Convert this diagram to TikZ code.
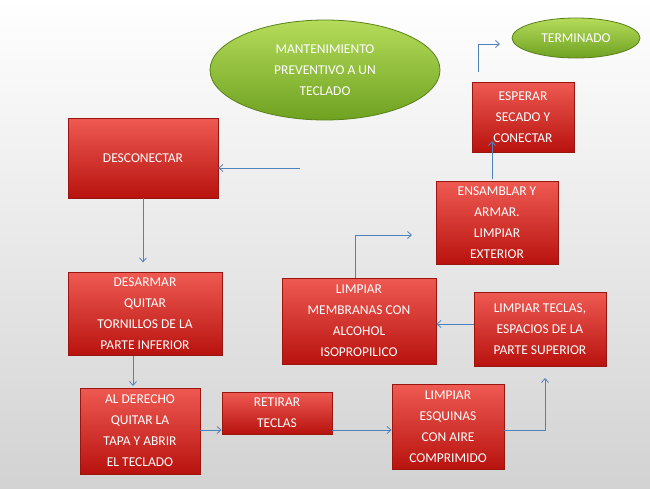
\documentclass[tikz,border=0pt]{standalone}
\usepackage{fontspec}
\setmainfont{Carlito}
\usetikzlibrary{shapes.geometric,arrows.meta}
\definecolor{rtop}{HTML}{EE5A52}
\definecolor{rbot}{HTML}{B8120E}
\definecolor{rdraw}{HTML}{9A1410}
\definecolor{gtop}{HTML}{B5DC5A}
\definecolor{gbot}{HTML}{6FA121}
\definecolor{arr}{HTML}{4F81BD}
\tikzset{
 box/.style={draw=rdraw,line width=0.8pt,top color=rtop,bottom color=rbot,text=white,align=center,
   font=\fontsize{13.5}{21}\selectfont,inner sep=2pt},
 oval/.style={ellipse,draw=gbot!80!black,line width=0.8pt,top color=gtop,bottom color=gbot,text=white,align=center,
   font=\fontsize{13.5}{21}\selectfont,inner sep=0pt},
 con/.style={draw=arr,line width=0.8pt,-{Straight Barb[length=4pt,width=7pt]}}
}
\begin{document}
\begin{tikzpicture}[x=1pt,y=-1pt]
\shade[top color=white,bottom color=gray!35] (0,0) rectangle (650,488);
\useasboundingbox (0,0) rectangle (650,488);
\node[oval,minimum width=230,minimum height=100] (m) at (325,70) {MANTENIMIENTO\\PREVENTIVO A UN\\TECLADO};
\node[oval,minimum width=128,minimum height=40] (t) at (576,38) {TERMINADO};
\node[box,minimum width=150,minimum height=80] (d) at (143,158) {DESCONECTAR};
\node[box,minimum width=102,minimum height=70] (e) at (523,117) {ESPERAR\\SECADO Y\\CONECTAR};
\node[box,minimum width=122,minimum height=83] (en) at (497,223) {ENSAMBLAR Y\\ARMAR.\\LIMPIAR\\EXTERIOR};
\node[box,minimum width=154,minimum height=83] (ds) at (145,314) {DESARMAR\\QUITAR\\TORNILLOS DE LA\\PARTE INFERIOR};
\node[box,minimum width=154,minimum height=86] (lm) at (359,321) {LIMPIAR\\MEMBRANAS CON\\ALCOHOL\\ISOPROPILICO};
\node[box,minimum width=132,minimum height=74] (lt) at (540,329) {LIMPIAR TECLAS,\\ESPACIOS DE LA\\PARTE SUPERIOR};
\node[box,minimum width=120,minimum height=86] (ad) at (140,431) {AL DERECHO\\QUITAR LA\\TAPA Y ABRIR\\EL TECLADO};
\node[box,minimum width=110,minimum height=42] (r) at (277,413) {RETIRAR\\TECLAS};
\node[box,minimum width=112,minimum height=85] (le) at (448,427) {LIMPIAR\\ESQUINAS\\CON AIRE\\COMPRIMIDO};
\coordinate (a1) at (300,168);
\draw[con] (a1) -- (d.east |- a1);
\draw[con] (d.south) -- ++(0,64);
\draw[con] (133,356) -- (133,386);
\draw[con] (ad.east |- 0,430) -- (r.west |- 0,430);
\draw[con] (r.east |- 0,430) -- (le.west |- 0,430);
\coordinate (b1) at (545,430);
\draw[con] (le.east |- b1) -- (b1) -- (545,378);
\draw[con] (lt.west |- 0,324) -- (lm.east |- 0,324);
\coordinate (c1) at (355,235);
\draw[con] (lm.north -| c1) -- (c1) -- (412,235);
\draw[con] (en.north -| 492,0) ++(0,-2) -- (492,141);
\coordinate (f1) at (478,44);
\draw[con] (478,72) -- (f1) -- (500,44);
\end{tikzpicture}
\end{document}
